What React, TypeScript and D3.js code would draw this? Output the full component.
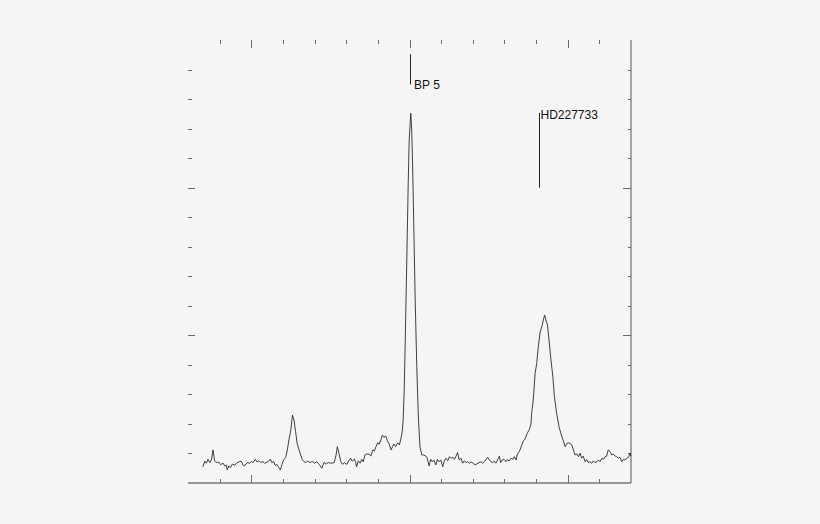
import { useMemo } from 'react';
import * as d3 from 'd3';

// channel positions along the cut, and intensity
const CHANNELS = [
  4.7, 5.3, 5.8, 6.3, 6.9, 7.4, 7.9, 8.4, 8.9, 9.7, 10.3, 11.1, 11.6, 12.1, 12.4, 12.9, 13.4, 14.0,
  14.8, 15.5, 16.3, 16.8, 17.4, 17.9, 18.7, 19.5, 20.0, 20.5, 21.3, 21.8, 22.3, 23.0, 23.7, 24.2,
  25.0, 25.6, 26.0, 26.5, 27.1, 27.6, 28.1, 28.7, 29.2, 29.7, 30.3, 30.9, 31.4, 31.9, 32.5, 33.0,
  33.5, 34.0, 34.5, 35.1, 35.6, 36.1, 36.7, 37.1, 37.8, 38.6, 39.3, 39.9, 40.7, 41.4, 42.3, 43.0,
  43.6, 44.3, 45.4, 46.2, 46.8, 47.2, 47.7, 48.3, 48.9, 49.4, 50.2, 50.7, 51.4, 51.9, 52.6, 53.0,
  53.3, 53.8, 54.4, 54.9, 55.4, 55.9, 56.5, 57.2, 57.8, 58.4, 58.9, 59.4, 60.0, 60.4, 61.0, 61.4,
  61.9, 62.5, 63.0, 63.5, 64.2, 64.6, 65.1, 65.6, 66.3, 66.8, 67.3, 67.7, 68.0, 68.3, 68.6, 68.9,
  69.3, 69.6, 69.9, 70.4, 70.7, 71.0, 71.4, 71.8, 72.3, 72.8, 73.3, 73.9, 74.4, 75.2, 75.6, 76.2,
  76.7, 77.2, 77.7, 78.3, 78.8, 79.3, 79.9, 80.5, 81.0, 81.5, 82.1, 82.6, 83.1, 83.7, 84.2, 84.7,
  85.2, 85.7, 86.3, 86.8, 87.3, 87.9, 88.4, 88.9, 89.4, 90.2, 90.7, 91.2, 92.0, 92.6, 93.1, 93.6,
  94.2, 94.7, 95.2, 95.8, 96.3, 96.8, 97.3, 97.9, 98.4, 98.8, 99.3, 99.9, 100.5, 101.0, 101.5,
  102.1, 102.6, 103.1, 103.7, 104.1, 104.7, 105.5, 106.0, 106.5, 107.2, 107.9, 108.4, 108.6,
  109.1, 109.7, 110.2, 110.7, 111.3, 111.8, 112.3, 112.7, 113.1, 113.6, 114.1, 114.6, 115.3,
  115.8, 116.5, 117.3, 118.1, 118.6, 119.2, 119.7, 120.2, 120.7, 121.3, 121.8, 122.3, 122.9,
  123.4, 123.9, 124.4, 124.9, 125.5, 126.0, 126.5, 127.1, 127.6, 128.1, 128.6, 129.2, 129.7,
  130.2, 130.8, 131.3, 131.8, 132.3, 132.8, 133.4, 133.9, 134.4, 135.0, 135.5, 136.0, 136.5,
  137.1, 137.6, 138.1, 138.7, 139.2, 139.7, 140.0,
];

const INTENSITY = [
  5.5, 7.4, 6.7, 8.0, 6.9, 7.8, 11.2, 7.5, 6.9, 7.1, 6.2, 6.7, 5.8, 6.1, 4.4, 5.8, 5.2, 6.4,
  6.0, 6.9, 7.2, 7.4, 6.1, 5.8, 6.9, 6.7, 7.3, 6.9, 8.0, 7.1, 7.5, 7.0, 7.2, 6.7,
  7.1, 7.5, 8.1, 6.9, 7.2, 5.9, 6.3, 5.2, 4.4, 6.3, 8.0, 8.7, 11.2, 14.6, 17.9, 23.0,
  21.3, 17.4, 13.4, 11.2, 9.5, 8.0, 7.2, 6.9, 7.4, 6.9, 7.4, 6.7, 7.2, 6.4, 5.0, 7.0,
  6.4, 6.9, 6.7, 6.9, 9.5, 12.3, 10.1, 7.2, 6.3, 6.9, 6.3, 7.4, 8.4, 7.4, 8.1, 6.9,
  5.5, 7.5, 6.7, 8.0, 7.2, 9.5, 9.8, 9.8, 9.1, 11.2, 10.9, 12.3, 13.6, 13.1, 14.6, 16.2,
  15.5, 15.9, 14.3, 13.4, 11.2, 12.3, 13.2, 12.3, 13.6, 12.9, 15.1, 17.4, 21.3, 30.5, 45.0, 61.9,
  84.6, 101.5, 116.1, 125.2, 119.5, 107.0, 84.6, 61.9, 39.4, 22.4, 12.3, 9.5, 9.5, 9.1, 8.4, 5.8,
  8.0, 7.2, 7.8, 6.1, 8.0, 7.2, 7.8, 5.5, 7.5, 8.4, 7.5, 8.9, 8.4, 8.7, 8.0, 9.1,
  10.3, 7.8, 8.4, 6.7, 7.5, 6.9, 7.2, 6.7, 7.1, 6.7, 6.1, 6.4, 6.9, 7.2, 6.7, 7.2,
  8.0, 8.7, 7.8, 7.2, 6.9, 7.4, 6.7, 8.0, 9.1, 6.9, 7.8, 8.0, 7.2, 8.0, 7.4,
  8.4, 8.0, 8.9, 7.8, 9.8, 10.6, 12.9, 14.3, 14.8, 16.8, 18.2, 20.0, 23.6,
  28.0, 37.1, 40.5, 46.1, 51.2, 52.9, 55.2, 56.9, 55.2, 53.5, 48.4, 42.7, 36.0,
  29.2, 23.6, 18.8, 15.9, 14.3, 12.3, 13.4, 13.6, 13.4, 12.9, 11.2, 9.5, 9.8,
  8.9, 10.1, 8.4, 9.1, 7.2, 8.0, 6.9, 7.2, 6.7, 7.5, 6.9, 7.2, 7.8,
  7.2, 8.4, 8.0, 8.9, 9.1, 11.2, 10.6, 9.5, 9.8, 9.1, 8.9, 8.4, 8.7,
  7.2, 8.0, 7.8, 8.4, 8.7, 10.1, 9.1,
];

// source markers: channel, bottom and top of the tick, label
const MARK_LABELS = ['BP 5', 'HD227733'];
const MARK_CHANNEL = [70, 111];
const MARK_BOTTOM = [135, 100];
const MARK_TOP = [145.2, 125.3];

const X_TICKS = d3.range(10, 140, 10);
const X_MAJOR = [20, 70, 120];
const Y_TICKS = d3.range(10, 150, 10);
const Y_MAJOR = [50, 100];

const W = 820;
const H = 524;
const LEFT = 188;
const RIGHT = 631;
const TOP = 40;
const BOTTOM = 483;

export default function App() {
  const chart = useMemo(() => {
    const x = d3.scaleLinear().domain([0, 140]).range([LEFT, RIGHT]);
    const y = d3.scaleLinear().domain([0, 150]).range([BOTTOM, TOP]);
    const pts = CHANNELS.map((c, i) => [c, INTENSITY[i]] as [number, number]);
    const line = d3.line<[number, number]>()
      .x((d) => x(d[0]))
      .y((d) => y(d[1]));
    return { x, y, path: line(pts) ?? '' };
  }, []);

  const { x, y } = chart;
  const tickColor = '#6a6a6a';

  return (
    <svg
      width={W}
      height={H}
      style={{ position: 'absolute', left: 0, top: 0, background: '#f5f5f5', display: 'block' }}
    >
      <rect x={0} y={0} width={W} height={H} fill="#f5f5f5" />

      {/* frame: bottom and right only */}
      <line x1={LEFT} y1={BOTTOM} x2={RIGHT} y2={BOTTOM} stroke="#3a3a3a" strokeWidth={1} />
      <line x1={RIGHT} y1={TOP} x2={RIGHT} y2={BOTTOM} stroke="#555" strokeWidth={1} />

      {/* x ticks, top and bottom */}
      {X_TICKS.map((t) => {
        const major = X_MAJOR.includes(t);
        const px = Math.round(x(t)) + 0.5;
        return (
          <g key={`x${t}`}>
            <line x1={px} x2={px} y1={TOP} y2={TOP + (major ? 8 : 4)} stroke={tickColor} strokeWidth={1} />
            <line x1={px} x2={px} y1={BOTTOM} y2={BOTTOM - (major ? 8 : 4)} stroke={tickColor} strokeWidth={1} />
          </g>
        );
      })}

      {/* y ticks, left and right */}
      {Y_TICKS.map((t) => {
        const major = Y_MAJOR.includes(t);
        const py = Math.round(y(t)) + 0.5;
        return (
          <g key={`y${t}`}>
            <line x1={LEFT} x2={LEFT + (major ? 7 : 4)} y1={py} y2={py} stroke={tickColor} strokeWidth={1} />
            <line x1={RIGHT} x2={RIGHT - (major ? 8 : 3)} y1={py} y2={py} stroke={tickColor} strokeWidth={1} />
          </g>
        );
      })}

      {/* spectrum */}
      <path d={chart.path} fill="none" stroke="#2a2a2a" strokeWidth={0.9} strokeLinejoin="round" />

      {/* markers */}
      {MARK_LABELS.map((label, i) => {
        const px = Math.round(x(MARK_CHANNEL[i])) + 0.5;
        const textY = i === 0 ? y(MARK_BOTTOM[i]) + 5 : y(MARK_TOP[i]) + 6.5;
        return (
          <g key={label}>
            <line
              x1={px} x2={px}
              y1={y(MARK_TOP[i])} y2={y(MARK_BOTTOM[i])}
              stroke="#222" strokeWidth={1}
            />
            <text
              x={px + (i === 0 ? 3.5 : 1)}
              y={textY}
              fontSize={12}
              fontFamily="'Liberation Sans', Arial, sans-serif"
              fill="#111"
            >
              {label}
            </text>
          </g>
        );
      })}
    </svg>
  );
}
